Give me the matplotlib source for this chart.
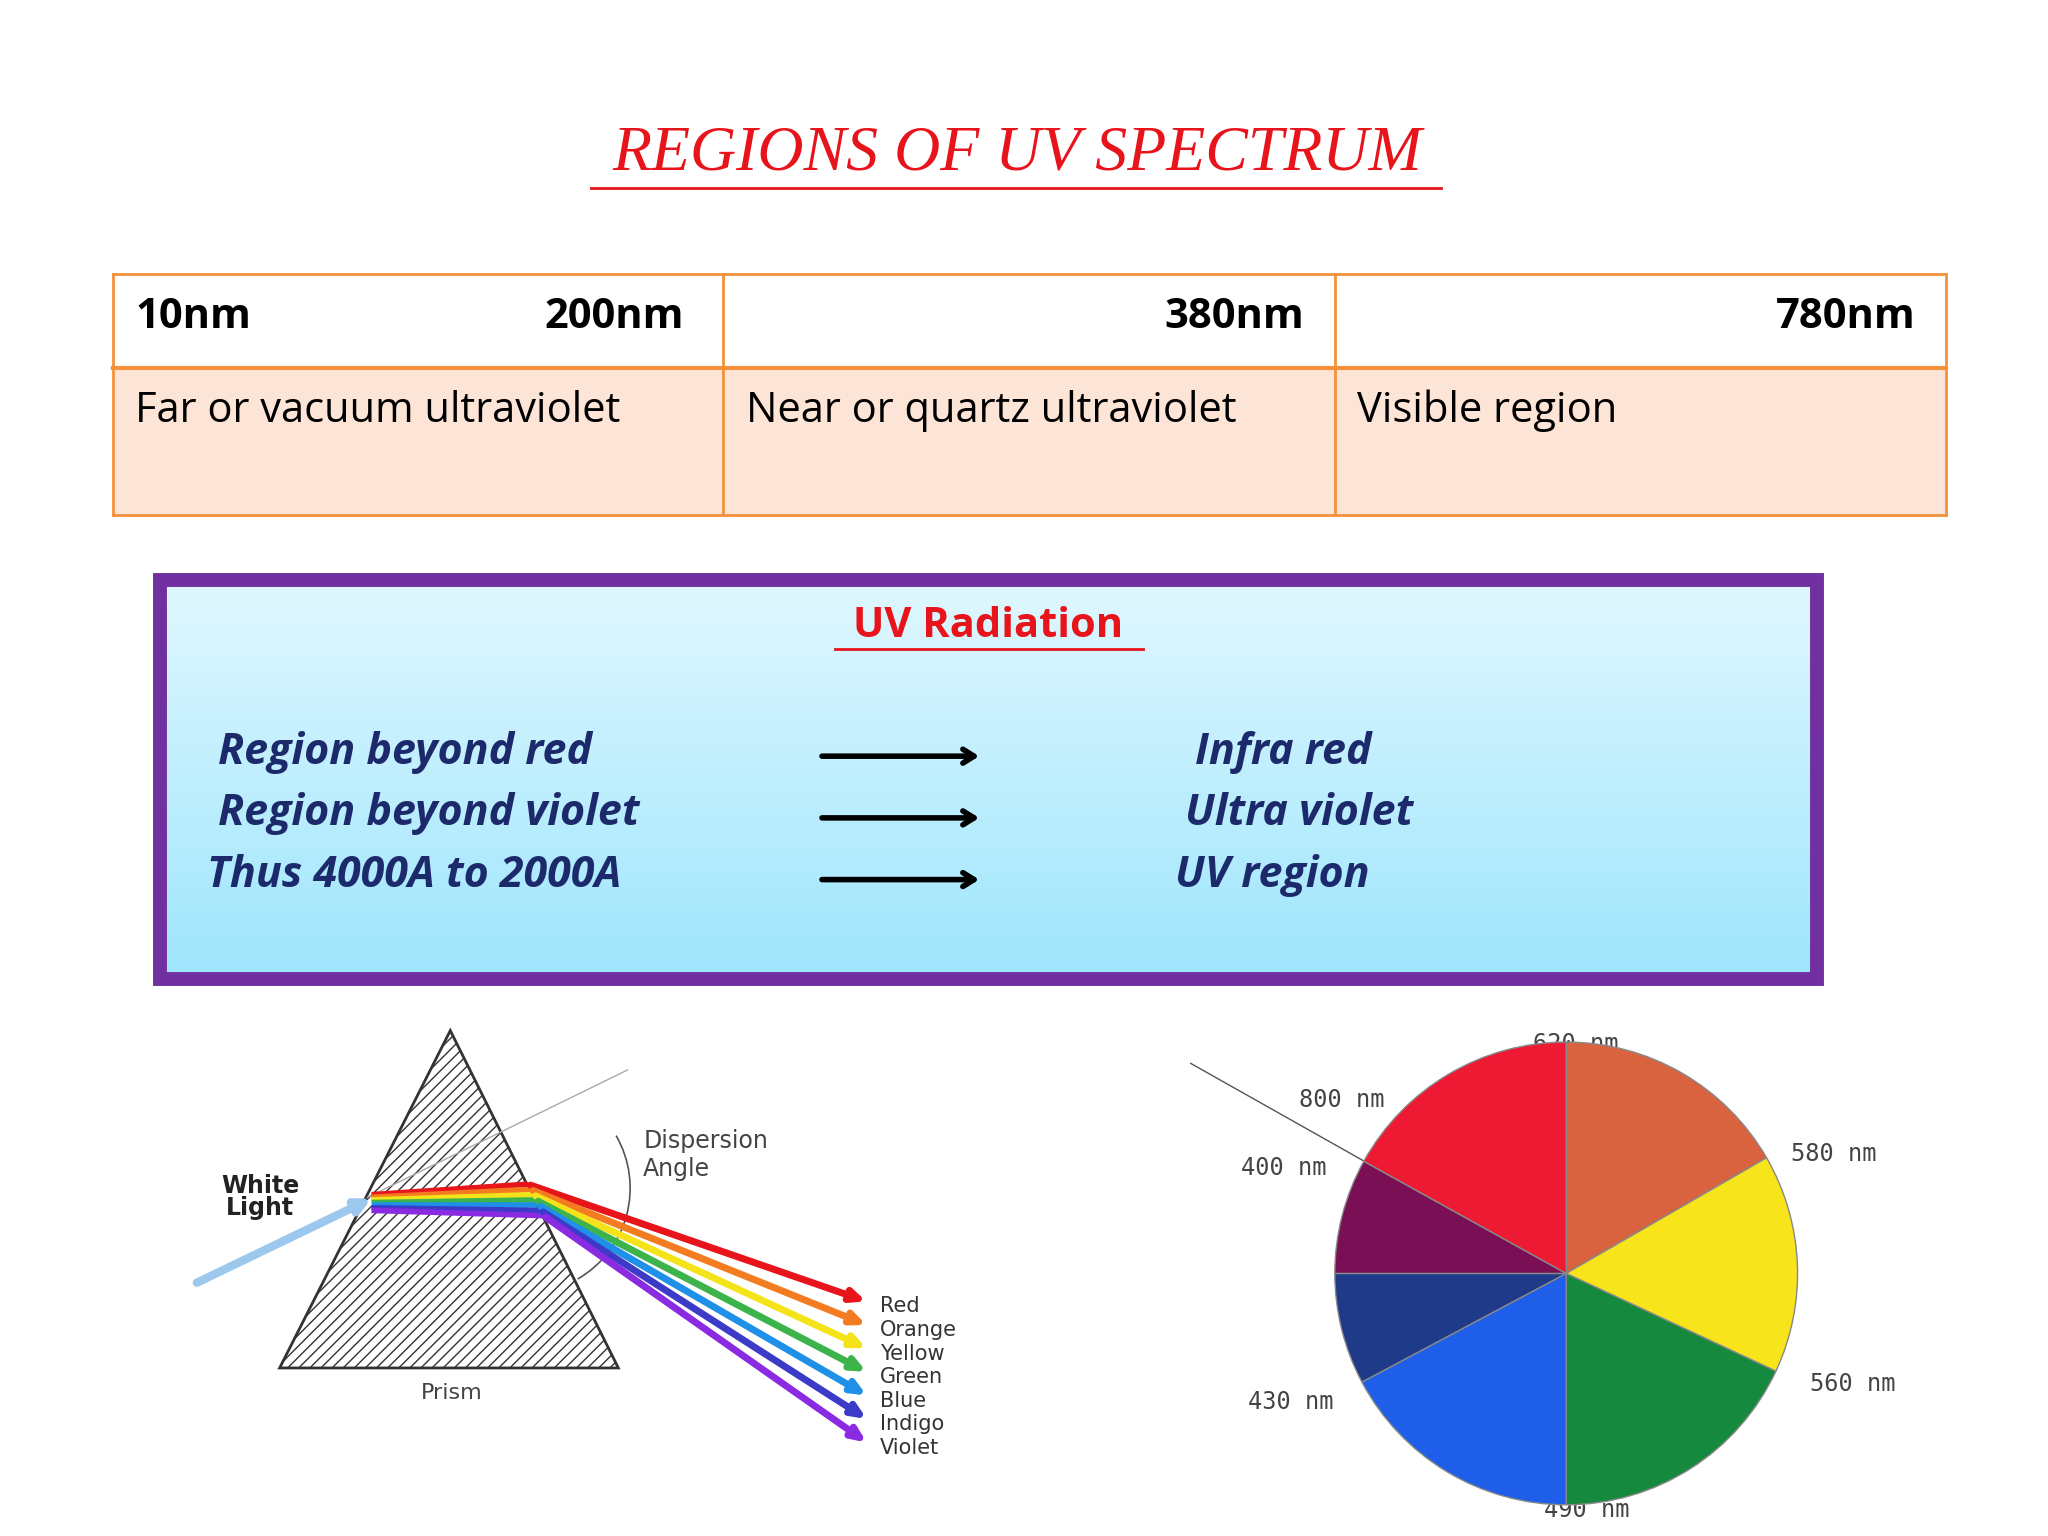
import numpy as np
import matplotlib
matplotlib.use("Agg")
import matplotlib.pyplot as plt
from matplotlib.patches import Rectangle, Polygon, Arc

title = "REGIONS OF UV SPECTRUM"
table_top = ["10nm", "200nm", "380nm", "780nm"]
table_bottom = ["Far or vacuum ultraviolet", "Near or quartz ultraviolet", "Visible region"]
left_items = ["Region beyond red", "Region beyond violet", "Thus 4000A to 2000A"]
right_items = ["Infra red", "Ultra violet", "UV region"]
ray_names = ["Red", "Orange", "Yellow", "Green", "Blue", "Indigo", "Violet"]
ray_colors = ["#e8141c", "#f47c20", "#f5e31a", "#3cb44b", "#1e90e8", "#3b3bc8", "#8a2be2"]
pie_sizes = [60, 55, 65, 62, 28, 29, 61]
pie_colors = ["#d9623f", "#f7e41a", "#15893d", "#1f5ee8", "#203a8a", "#7a0f55", "#ee1a33"]
pie_labels = ["620 nm", "580 nm", "560 nm", "490 nm", "430 nm", "400 nm", "800 nm"]

W, H = 1560, 1170
fig = plt.figure(figsize=(20.48, 15.36), dpi=100)
ax = fig.add_axes([0, 0, 1, 1])
ax.set_xlim(0, W); ax.set_ylim(H, 0); ax.axis("off")

# Title
ax.text(775, 118, title, ha="center", va="center", fontsize=46, color="#e8141c",
        family="Liberation Serif", style="italic")
ax.plot([450, 1098], [143, 143], color="#e8141c", lw=2)

# Table
x0, x1 = 86, 1482
cols = [86, 551, 1017, 1482]
ax.add_patch(Rectangle((86, 281), 1396, 111, facecolor="#fce4d6", edgecolor="none"))
for y in [209, 280, 392]:
    ax.plot([x0, x1], [y, y], color="#f4913c", lw=3 if y == 280 else 2)
for c in cols:
    ax.plot([c, c], [209, 392], color="#f4913c", lw=2)
tf = dict(fontsize=30, family="Open Sans", color="black")
ax.text(103, 242, table_top[0], ha="left", va="center", fontweight="bold", **tf)
ax.text(521, 242, table_top[1], ha="right", va="center", fontweight="bold", **tf)
ax.text(993, 242, table_top[2], ha="right", va="center", fontweight="bold", **tf)
ax.text(1459, 242, table_top[3], ha="right", va="center", fontweight="bold", **tf)
for i, t in enumerate(table_bottom):
    ax.text(cols[i] + 17, 313, t, ha="left", va="center", **tf)

# UV box
grad = np.linspace(0, 1, 200).reshape(-1, 1)
top = np.array([0.88, 0.97, 1.0]); bot = np.array([0.62, 0.90, 0.99])
img = top[None, None, :] * (1 - grad[..., None]) + bot[None, None, :] * grad[..., None]
ax.imshow(img, extent=[122, 1384, 746, 442], aspect="auto", zorder=1)
ax.add_patch(Rectangle((122, 442), 1262, 304, facecolor="none", edgecolor="#7030a0", lw=10, zorder=2))
ax.text(753, 477, "UV Radiation", ha="center", va="center", fontsize=30, fontweight="bold",
        color="#e8141c", family="Open Sans", zorder=3)
ax.plot([636, 871], [494, 494], color="#e8141c", lw=2, zorder=3)
bf = dict(fontsize=31, fontweight="bold", style="italic", color="#1c2a6b", family="Open Sans", zorder=3)
lx = [166, 166, 158]; rx = [910, 903, 895]; ys = [573, 620, 667]
for i in range(3):
    ax.text(lx[i], ys[i], left_items[i], ha="left", va="center", **bf)
    ax.text(rx[i], ys[i], right_items[i], ha="left", va="center", **bf)
    ax.annotate("", xy=(748, ys[i] + 3), xytext=(624, ys[i] + 3),
                arrowprops=dict(arrowstyle="->,head_width=0.5,head_length=0.8", lw=4, color="black"), zorder=3)

# Prism
prism = Polygon([[343, 785], [213, 1042], [471, 1042]], closed=True, facecolor="white",
                edgecolor="#333333", hatch="///", lw=2)
ax.add_patch(prism)
ax.annotate("", xy=(285, 912), xytext=(148, 978),
            arrowprops=dict(arrowstyle="-|>,head_width=0.4,head_length=0.8", lw=6, color="#9cc8ee"))
ax.text(198, 912, "White\nLight", ha="center", va="center", fontsize=17, fontweight="bold",
        color="#222222", linespacing=0.9)
ax.text(344, 1061, "Prism", ha="center", va="center", fontsize=16, color="#444444")
ax.plot([280, 478], [912, 815], color="#aaaaaa", lw=1)
ax.text(490, 880, "Dispersion\nAngle", ha="left", va="center", fontsize=17, color="#444444", linespacing=1.2)
ax.add_patch(Arc((400, 905), 160, 160, theta1=-30, theta2=60, color="#555555", lw=1.2))
n = len(ray_names)
for i in range(n):
    ex, ey = 662, 992 + i * 18
    ax.plot([283, 402 + i * 2], [910 + i * 2, 902 + i * 4], color=ray_colors[i], lw=4,
            solid_capstyle="butt")
    ax.annotate("", xy=(ex, ey), xytext=(402 + i * 2, 902 + i * 4),
                arrowprops=dict(arrowstyle="-|>,head_width=0.35,head_length=0.8", lw=5, color=ray_colors[i]))
    ax.text(670, ey + 3, ray_names[i], ha="left", va="center", fontsize=15, color="#333333")

# Pie
pax = fig.add_axes([1015 / W, 1 - 1148 / H, 356 / W, 356 / H])
pax.pie(pie_sizes, colors=pie_colors, startangle=90, counterclock=False, radius=1,
        wedgeprops=dict(edgecolor="#888888", linewidth=1))
pax.set_xlim(-1.01, 1.01); pax.set_ylim(-1.01, 1.01)
pax.set_aspect("auto")
ax.plot([907, 1040], [810, 885], color="#555555", lw=1)
lf = dict(fontsize=17, color="#444444", family="DejaVu Sans Mono", ha="center", va="center")
pos = [(1200, 795), (1397, 879), (1411, 1054), (1209, 1150), (983, 1068), (978, 890), (1022, 838)]
for (px, py), t in zip(pos, pie_labels):
    ax.text(px, py, t, **lf)

fig.savefig("out.png", dpi=100)
